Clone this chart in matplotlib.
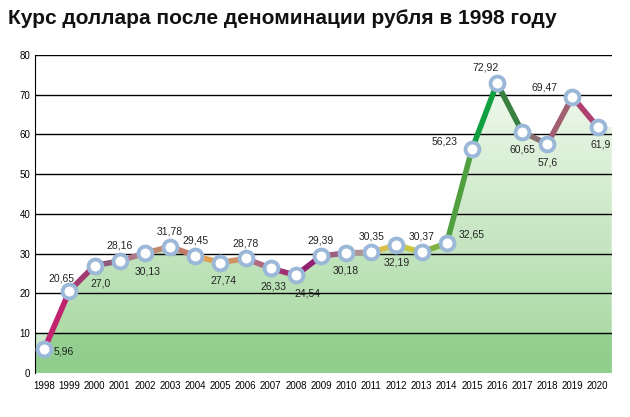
import matplotlib
matplotlib.use("Agg")
import matplotlib.pyplot as plt
import numpy as np
from matplotlib.patches import Polygon
from matplotlib import font_manager as fm
from matplotlib.colors import LinearSegmentedColormap

years = list(range(1998, 2021))
rates = [5.96, 20.65, 27.0, 28.16, 30.13, 31.78, 29.45, 27.74, 28.78, 26.33, 24.54,
         29.39, 30.18, 30.35, 32.19, 30.37, 32.65, 56.23, 72.92, 60.65, 57.6, 69.47, 61.9]
labels = ["5,96", "20,65", "27,0", "28,16", "30,13", "31,78", "29,45", "27,74", "28,78",
          "26,33", "24,54", "29,39", "30,18", "30,35", "32,19", "30,37", "32,65", "56,23",
          "72,92", "60,65", "57,6", "69,47", "61,9"]
title = "Курс доллара после деноминации рубля в 1998 году"

seg_colors = ['#c0246e', '#a33a72', '#8f5a7a', '#b07888', '#c48a70', '#c07a68', '#e0a050',
              '#d09060', '#b06a80', '#a03070', '#902070', '#a06080', '#b09090', '#d8c050',
              '#c8c840', '#80b040', '#50a040', '#10a040', '#3a8040', '#8a7070', '#a06070', '#b04070']
offsets = [(14, -2), (-6, 9), (4, -13), (0, 11), (2, -13), (0, 11), (0, 11), (2, -13), (0, 11),
           (2, -13), (8, -13), (0, 11), (0, -13), (0, 11), (0, -13), (0, 11), (18, 6), (-20, 6),
           (-8, 11), (0, -13), (0, -13), (-20, 7), (2, -13)]

names = {f.name for f in fm.fontManager.ttflist}
tfont = "Liberation Sans Narrow" if "Liberation Sans Narrow" in names else "Liberation Sans"

fig = plt.figure(figsize=(6.3, 4.17), dpi=100)
ax = fig.add_axes([0.056, 0.106, 0.915, 0.762])
xmin, xmax = 1998 - 0.36, 2020 + 0.56
ax.set_xlim(xmin, xmax)
ax.set_ylim(0, 80)

grad = np.linspace(0, 1, 256).reshape(-1, 1)
cmap = LinearSegmentedColormap.from_list("g", ["#a2d69c", "#f8fcf5"])
im = ax.imshow(grad, extent=[xmin, xmax, 0, 80], origin="lower", cmap=cmap, aspect="auto", zorder=1)
poly = Polygon([(xmin, 0), (xmin, rates[0])] + list(zip(years, rates)) + [(xmax, rates[-1]), (xmax, 0)],
               closed=True, transform=ax.transData, facecolor="none", edgecolor="none")
ax.add_patch(poly)
im.set_clip_path(poly)
ax.axhspan(0, 10, color="#6cc06c", alpha=0.35, zorder=1.5)

for y in range(10, 90, 10):
    ax.axhline(y, color="black", lw=1, zorder=2)

for i in range(len(years) - 1):
    ax.plot(years[i:i + 2], rates[i:i + 2], color=seg_colors[i], lw=4, solid_capstyle="round", zorder=3)
ax.scatter(years, rates, s=100, facecolor="white", edgecolor="#9bb8d8", linewidth=2.8, zorder=4)
for x, y, t, (dx, dy) in zip(years, rates, labels, offsets):
    ax.annotate(t, (x, y), xytext=(dx, dy), textcoords="offset points", ha="center", va="center",
                fontsize=7.5, fontfamily=tfont, color="#222222", zorder=5)

ax.set_xticks(years)
ax.set_xticklabels([str(y) for y in years], fontsize=7, fontfamily=tfont)
ax.set_yticks(range(0, 90, 10))
ax.tick_params(axis="y", labelsize=7, length=0)
ax.tick_params(axis="x", length=0, pad=6)
for lab in ax.get_yticklabels():
    lab.set_fontfamily(tfont)
for s in ["top", "right", "bottom"]:
    ax.spines[s].set_visible(False)
ax.spines["left"].set_color("black")

fig.text(0.012, 0.955, title, fontsize=15, fontweight="bold", fontfamily=tfont, va="center", color="#111111")
fig.savefig("out.png", dpi=100)
